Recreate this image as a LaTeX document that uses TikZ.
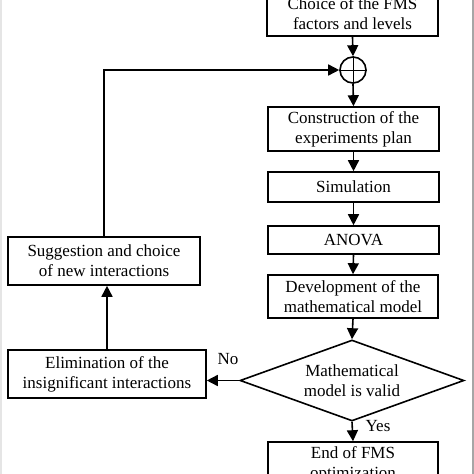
\documentclass[tikz,border=0pt]{standalone}
\usepackage{fontspec}
\setmainfont{Liberation Serif}
\usetikzlibrary{arrows.meta,shapes.geometric}
\begin{document}
\begin{tikzpicture}[x=1pt,y=-1pt,
  every node/.style={font=\fontsize{17}{20}\selectfont},
  box/.style={draw,line width=1.6pt,inner sep=0pt,align=center,minimum width=171pt},
  arr/.style={line width=1.6pt,-{Triangle[length=11pt,width=11pt]}}]
\useasboundingbox (0,0) rectangle (474,474);
\fill[gray!20] (0,0) rectangle (2,474);
\fill[gray!70] (472,0) rectangle (474,474);
\node[box,minimum height=44pt] (choice) at (352.5,14) {Choice of the FMS\\factors and levels};
\node[draw,circle,line width=1.6pt,minimum size=26pt,inner sep=0pt] (sum) at (353,70) {};
\draw[line width=1pt] (sum.north) -- (sum.south) (sum.west) -- (sum.east);
\node[box,minimum height=44pt] (constr) at (353.5,129) {Construction of the\\experiments plan};
\node[box,minimum height=30pt] (sim) at (353.5,187) {Simulation};
\node[box,minimum height=28pt] (anova) at (353.5,240) {ANOVA};
\node[box,minimum height=43pt,minimum width=170pt] (dev) at (353,296.5) {Development of the\\mathematical model};
\node[draw,diamond,aspect=2.77,line width=1.6pt,minimum width=224pt,minimum height=81pt,inner sep=0pt,align=center] (valid) at (352,380.5) {Mathematical\\model is valid};
\node[box,minimum height=44pt,minimum width=170pt] (endb) at (353,464) {End of FMS\\optimization};
\node[box,minimum height=48pt,minimum width=192pt] (sugg) at (104,261) {Suggestion and choice\\of new interactions};
\node[box,minimum height=48pt,minimum width=198pt] (elim) at (107,374) {Elimination of the\\insignificant interactions};
\node (no) at (228,359) {No};
\node (yes) at (378,426) {Yes};
\draw[arr] (choice.south) -- (sum.north);
\draw[arr] (sum.south) -- (constr.north);
\draw[arr] (constr.south) -- (sim.north);
\draw[arr] (sim.south) -- (anova.north);
\draw[arr] (anova.south) -- (dev.north);
\draw[arr] (dev.south) -- (valid.north);
\draw[arr] (valid.south) -- (endb.north);
\draw[arr] (valid.west) -- (valid.west -| elim.east);
\draw[arr] (elim.north) -- (elim.north |- sugg.south);
\draw[arr] (sugg.north) -- (sugg.north |- sum.west) -- (sum.west);
\end{tikzpicture}
\end{document}
